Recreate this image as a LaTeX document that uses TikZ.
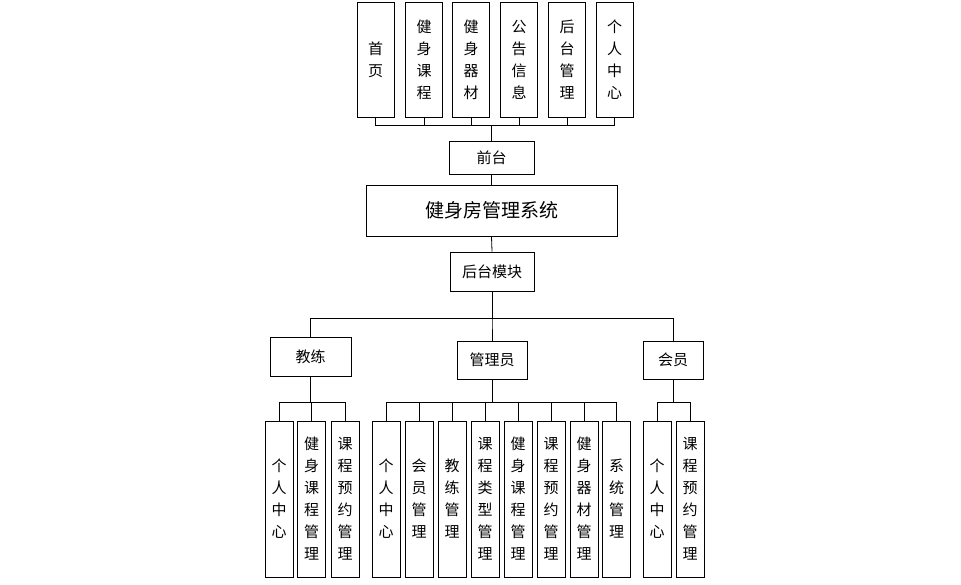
\documentclass[tikz,border=0pt]{standalone}
\usepackage{fontspec}
\newfontfamily\cjk{Noto Sans CJK SC}
\begin{document}
\begin{tikzpicture}[x=1pt,y=-1pt,
  bx/.style={draw,line width=0.8pt,inner sep=0pt,font=\cjk\fontsize{15}{22}\selectfont,align=center},
  ln/.style={line width=0.8pt}]
\useasboundingbox (0,0) rectangle (961,584);
% top
\foreach \n/\x/\t in {t1/375.5/首\\页, t2/424/健\\身\\课\\程, t3/471/健\\身\\器\\材, t4/519/公\\告\\信\\息, t5/567/后\\台\\管\\理, t6/614.5/个\\人\\中\\心}
  \node[bx,minimum width=37,minimum height=115] (\n) at (\x,59.5) {\t};
\node[bx,minimum width=85,minimum height=33] (qt) at (491.5,157.5) {前台};
\node[bx,minimum width=251,minimum height=51,font=\cjk\fontsize{19}{22}\selectfont] (sys) at (491.5,210.5) {健身房管理系统};
\node[bx,minimum width=84,minimum height=39] (ht) at (492,271.5) {后台模块};
\node[bx,minimum width=81,minimum height=39] (jl) at (310.5,356.5) {教练};
\node[bx,minimum width=70,minimum height=38] (gly) at (492,360) {管理员};
\node[bx,minimum width=60,minimum height=38] (hy) at (673,360) {会员};
\coordinate (tb) at (0,125);
\coordinate (mb) at (0,318);
\coordinate (lb) at (0,402);
\foreach \n in {t1,t2,t3,t4,t5,t6} \draw[ln] (\n.south) -- (\n.south|-tb) -| (qt.north);
\draw[ln] (qt.south) -- (sys.north);
\draw[ln] (sys.south) -- (ht.north);
\foreach \n in {jl,gly,hy} \draw[ln] (ht.south) -- (ht.south|-mb) -| (\n.north);
% bottom
\foreach \n/\x/\t in {a1/279/个\\人\\中\\心, a2/311.5/健\\身\\课\\程\\管\\理, a3/345/课\\程\\预\\约\\管\\理}
  \node[bx,minimum width=28,minimum height=156] (\n) at (\x,499) {\t};
\foreach \n/\x/\t in {b1/386/个\\人\\中\\心, b2/419/会\\员\\管\\理, b3/452/教\\练\\管\\理, b4/485/课\\程\\类\\型\\管\\理, b5/518/健\\身\\课\\程\\管\\理, b6/551/课\\程\\预\\约\\管\\理, b7/584/健\\身\\器\\材\\管\\理, b8/616.5/系\\统\\管\\理}
  \node[bx,minimum width=28,minimum height=156] (\n) at (\x,499) {\t};
\foreach \n/\x/\t in {c1/657/个\\人\\中\\心, c2/690/课\\程\\预\\约\\管\\理}
  \node[bx,minimum width=28,minimum height=156] (\n) at (\x,499) {\t};
\foreach \n in {a1,a2,a3} \draw[ln] (jl.south) -- (jl.south|-lb) -| (\n.north);
\foreach \n in {b1,b2,b3,b4,b5,b6,b7,b8} \draw[ln] (gly.south) -- (gly.south|-lb) -| (\n.north);
\foreach \n in {c1,c2} \draw[ln] (hy.south) -- (hy.south|-lb) -| (\n.north);
\end{tikzpicture}
\end{document}
